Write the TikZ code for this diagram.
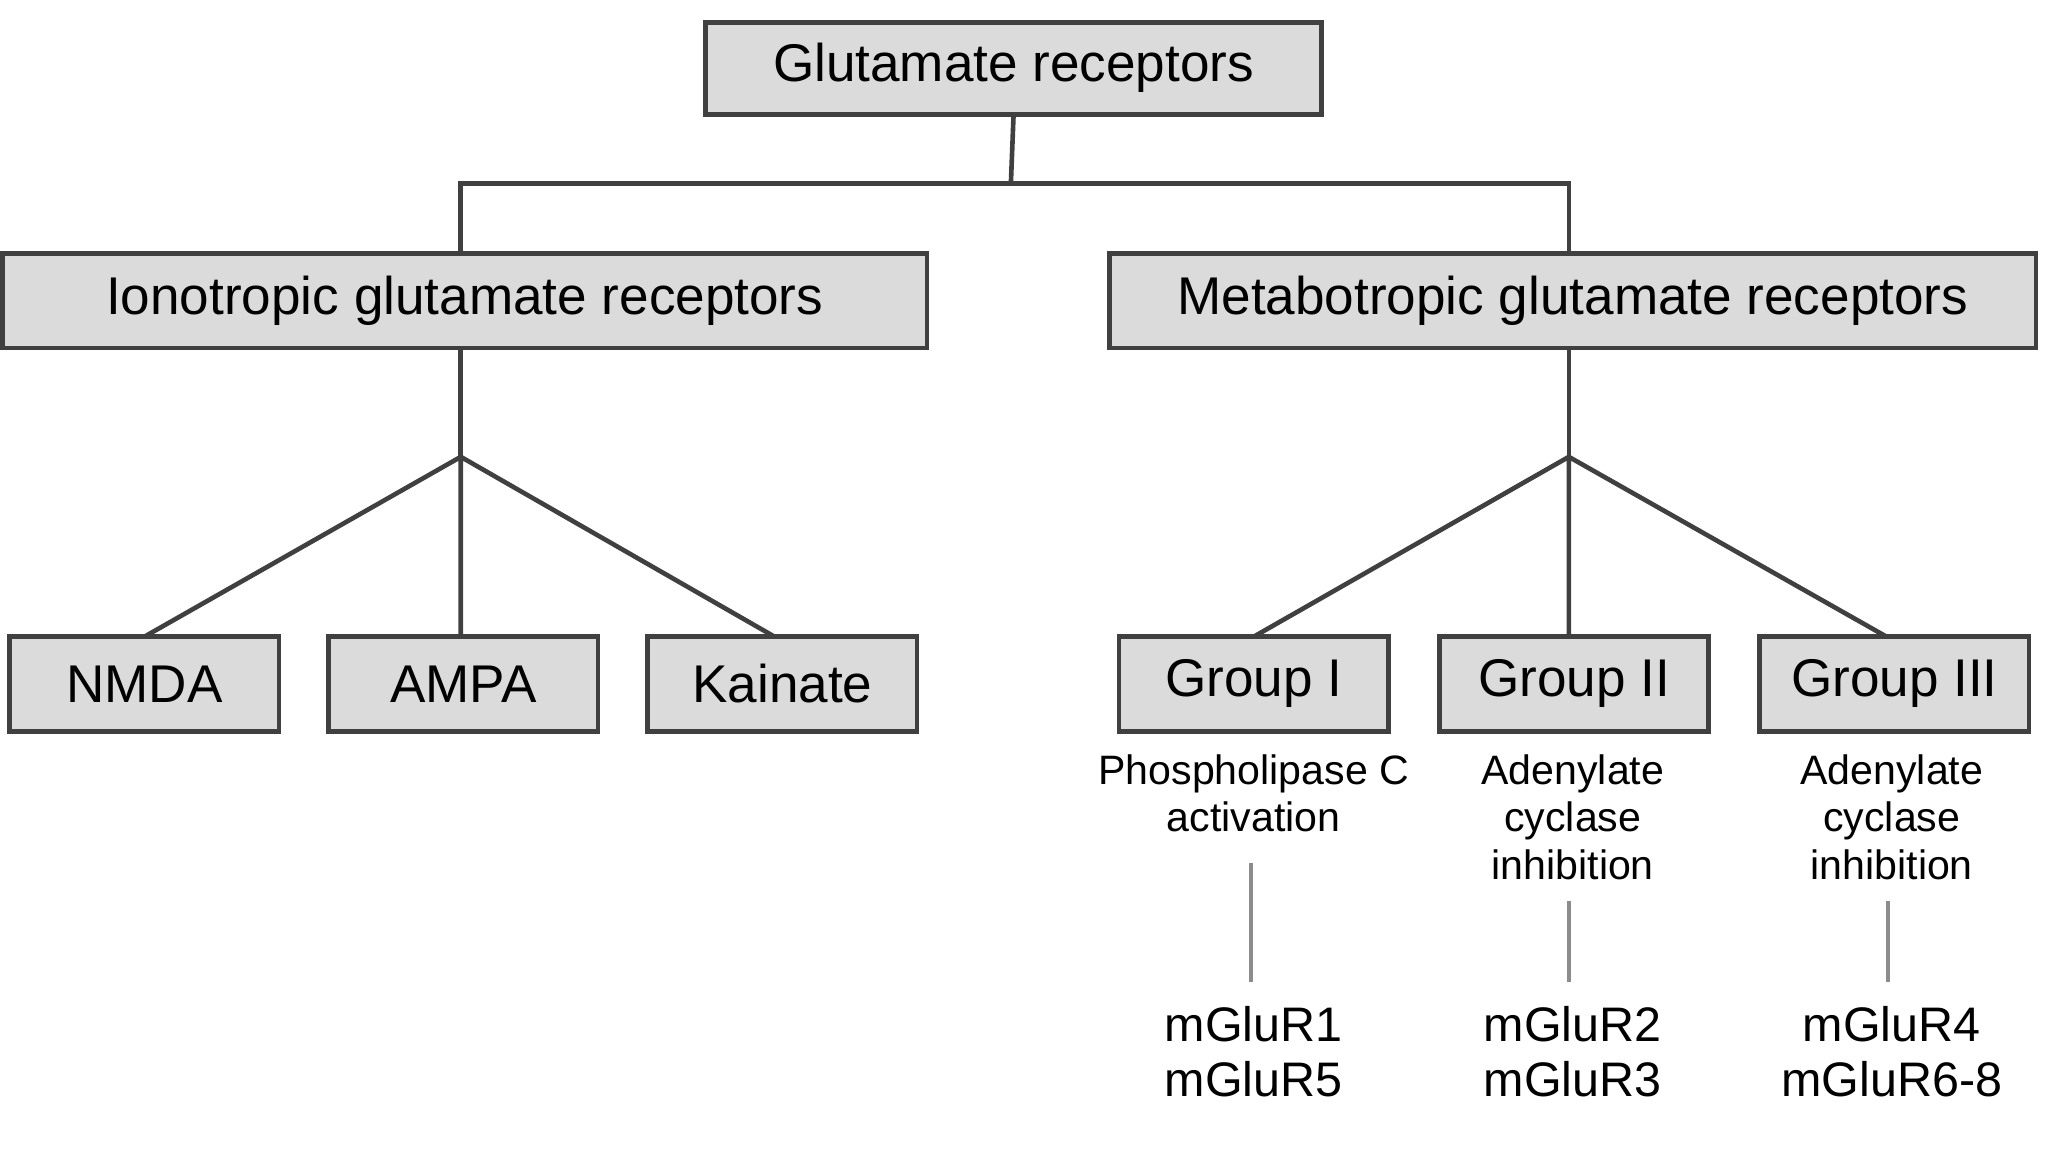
\documentclass[tikz,border=0pt]{standalone}
\usepackage{fontspec}
\setmainfont{Liberation Sans}
\begin{document}
\begin{tikzpicture}[x=0.01cm,y=-0.01cm,
  box/.style={draw=black!75,fill=black!14,line width=1pt,inner sep=0pt,font=\fontsize{11.5}{13}\selectfont},
  ln/.style={draw=black!75,line width=1pt},
  small/.style={align=center,inner sep=0pt,font=\fontsize{8.9}{10.3}\selectfont},
  gl/.style={align=center,inner sep=0pt,font=\fontsize{10.5}{12}\selectfont}]
\useasboundingbox (0,0) rectangle (1560,877);
\node[box,minimum width=469\pgflinewidth*0+4.69cm,minimum height=0.70cm] (top) at (772,52) {Glutamate receptors};
\node[box,minimum width=7.04cm,minimum height=0.72cm] (iono) at (354,229) {Ionotropic glutamate receptors};
\node[box,minimum width=7.05cm,minimum height=0.72cm] (meta) at (1198,229) {Metabotropic glutamate receptors};
\foreach \n/\t/\x in {nmda/NMDA/110,ampa/AMPA/353,kai/Kainate/596,g1/Group I/955,g2/Group II/1199,g3/Group III/1443}
  \node[box,minimum width=2.05cm,minimum height=0.72cm] (\n) at (\x,521) {\t};
\coordinate (j) at (770,140);
\coordinate (ji) at (351,140);
\coordinate (jm) at (1195,140);
\coordinate (bi) at (351,348);
\coordinate (bm) at (1195,348);
\draw[ln] (top.south) -- (j);
\draw[ln] (iono.north -| ji) -- (ji) -- (jm) -- (meta.north -| jm);
\draw[ln] (iono.south -| bi) -- (bi);
\draw[ln] (meta.south -| bm) -- (bm);
\draw[ln] (bi) -- (110,485) (bi) -- (351,485) (bi) -- (590,485);
\draw[ln] (bm) -- (955,485) (bm) -- (1195,485) (bm) -- (1437,485);
\node[small,anchor=north] (t1) at (955,574) {Phospholipase C\\activation};
\node[small,anchor=north] (t2) at (1198,574) {Adenylate\\cyclase\\inhibition};
\node[small,anchor=north] (t3) at (1441,574) {Adenylate\\cyclase\\inhibition};
\node[gl] (m1) at (955,801) {mGluR1\\mGluR5};
\node[gl] (m2) at (1198,801) {mGluR2\\mGluR3};
\node[gl] (m3) at (1441,801) {mGluR4\\mGluR6-8};
\coordinate (a1) at (953,657); \coordinate (b1) at (953,748);
\coordinate (a2) at (1195,686); \coordinate (b2) at (1195,748);
\coordinate (a3) at (1438,686); \coordinate (b3) at (1438,748);
\draw[ln,draw=black!45] (a1)--(b1) (a2)--(b2) (a3)--(b3);
\end{tikzpicture}
\end{document}
